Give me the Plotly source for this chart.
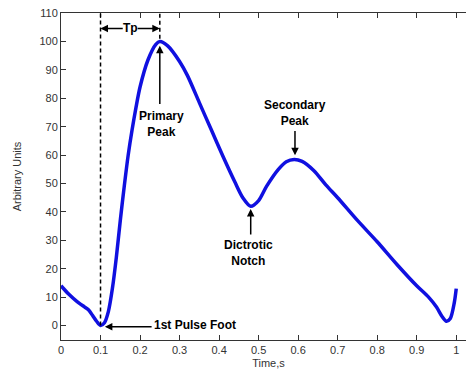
import plotly.graph_objects as go

time_s = [0, 0.02, 0.04, 0.06, 0.07, 0.08, 0.09, 0.1, 0.11, 0.12, 0.13, 0.14, 0.15, 0.16, 0.17,
          0.18, 0.19, 0.2, 0.22, 0.24, 0.25, 0.27, 0.3, 0.32, 0.35, 0.38, 0.41, 0.44, 0.46, 0.48,
          0.5, 0.52, 0.55, 0.57, 0.59, 0.61, 0.64, 0.67, 0.7, 0.75, 0.8, 0.85, 0.9, 0.93, 0.95,
          0.965, 0.975, 0.985, 0.995, 1.0]
amplitude = [14, 11, 8.5, 6.5, 5.5, 3.5, 1.5, 0, 1, 5, 13, 24, 37, 49, 60,
             69, 77, 84, 93.5, 99, 100, 98.5, 93, 88, 78.5, 69, 59.5, 50.5, 45, 42,
             44, 49, 55, 57.7, 58.5, 57.8, 54.5, 49.5, 45, 37, 29.5, 21.5, 14, 10, 6.5,
             3, 1.5, 2.5, 8, 13]

x_ticks = [0, 0.1, 0.2, 0.3, 0.4, 0.5, 0.6, 0.7, 0.8, 0.9, 1]
x_tick_labels = ["0", "0.1", "0.2", "0.3", "0.4", "0.5", "0.6", "0.7", "0.8", "0.9", "1"]
y_ticks = [0, 10, 20, 30, 40, 50, 60, 70, 80, 90, 100, 110]

foot_t, foot_v = 0.1, 0
peak_t, peak_v = 0.25, 100
notch_t, notch_v = 0.48, 42
second_t, second_v = 0.592, 58.5

FONT = "Arial, Liberation Sans, sans-serif"

fig = go.Figure()
fig.add_trace(go.Scatter(x=time_s, y=amplitude, mode="lines",
                         line=dict(color="#1010e0", width=3.5, shape="spline", smoothing=0.8),
                         showlegend=False, hoverinfo="skip"))

# dashed vertical markers
fig.add_shape(type="line", x0=foot_t, x1=foot_t, y0=0, y1=110, xref="x", yref="y",
              line=dict(color="black", width=1.5, dash="4px,3px"))
fig.add_shape(type="line", x0=peak_t, x1=peak_t, y0=101, y1=110, xref="x", yref="y",
              line=dict(color="black", width=1.5, dash="4px,3px"))

afont = dict(family=FONT, size=12, color="black")
arr = dict(showarrow=True, arrowhead=2, arrowsize=1, arrowwidth=1.5, arrowcolor="black",
           axref="x", ayref="y", xref="x", yref="y", text="")

# Tp
fig.add_annotation(x=0.175, y=104.6, text="<b>Tp</b>", showarrow=False, font=afont)
fig.add_annotation(x=0.1, y=104.6, ax=0.16, ay=104.6, **arr)
fig.add_annotation(x=0.25, y=104.6, ax=0.19, ay=104.6, **arr)

# Primary peak
fig.add_annotation(x=peak_t, y=98.5, ax=peak_t, ay=77.5, **arr)
fig.add_annotation(x=0.254, y=77, text="<b>Primary<br>Peak</b>", showarrow=False,
                   yanchor="top", font=afont)

# Secondary peak
fig.add_annotation(x=second_t, y=60, ax=second_t, ay=69, **arr)
fig.add_annotation(x=0.592, y=69, text="<b>Secondary<br>Peak</b>", showarrow=False,
                   yanchor="bottom", font=afont)

# Dicrotic notch
fig.add_annotation(x=notch_t, y=41, ax=notch_t, ay=31.5, **arr)
fig.add_annotation(x=0.474, y=31.5, text="<b>Dictrotic<br>Notch</b>", showarrow=False,
                   yanchor="top", font=afont)

# 1st pulse foot
fig.add_annotation(x=0.111, y=-0.4, ax=0.233, ay=-0.4, **arr)
fig.add_annotation(x=0.231, y=0.3, text="<b>1st Pulse Foot</b>", showarrow=False,
                   xanchor="left", font=afont)

axis_common = dict(showgrid=False, zeroline=False, showline=True, linecolor="#333333",
                   linewidth=1, mirror="ticks", ticks="inside", ticklen=5,
                   tickcolor="#333333", ticklabeloverflow="allow",
                   tickfont=dict(family=FONT, size=11, color="#333333"))

fig.update_xaxes(range=[0, 1.05], tickvals=x_ticks, ticktext=x_tick_labels,
                 automargin=True,
                 title=dict(text="Time,s", standoff=4,
                            font=dict(family=FONT, size=11, color="#333333")),
                 **axis_common)
fig.update_yaxes(range=[-5.1, 110.05], tickvals=y_ticks, automargin=False,
                 title=dict(text="Arbitrary Units",
                            font=dict(family=FONT, size=11, color="#333333")),
                 **axis_common)

fig.update_layout(width=474, height=382, margin=dict(l=53, r=6, t=5, b=50),
                  plot_bgcolor="white", paper_bgcolor="white")

fig.write_html("out.html")
